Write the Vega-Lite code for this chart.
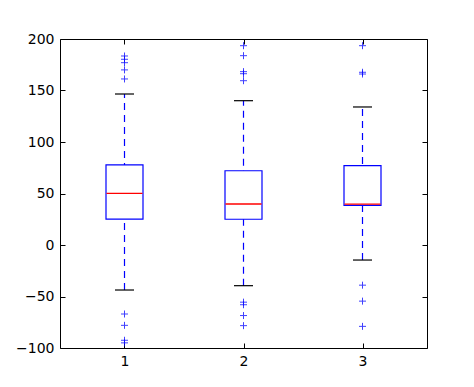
{
  "$schema": "https://vega.github.io/schema/vega-lite/v6.json",
  "autosize": {"type": "none"},
  "padding": {"left": 60, "top": 39, "right": 47, "bottom": 39},
  "width": 367,
  "height": 309,
  "background": "white",
  "config": {
    "view": {"stroke": "black", "strokeWidth": 1},
    "font": "DejaVu Sans",
    "axis": {
      "grid": false,
      "domain": false,
      "labelFont": "DejaVu Sans",
      "labelFontSize": 14,
      "labelColor": "black",
      "tickColor": "black",
      "tickSize": -5,
      "tickWidth": 1,
      "title": null
    }
  },
  "datasets": {
    "stats": [
      {"group": 1, "lower": -43.7, "q1": 25.2, "median": 50.2, "q3": 77.7, "upper": 146.6},
      {"group": 2, "lower": -39.5, "q1": 25.0, "median": 39.8, "q3": 72.1, "upper": 140.1},
      {"group": 3, "lower": -14.6, "q1": 38.5, "median": 39.7, "q3": 77.0, "upper": 134.0}
    ],
    "outliers": [
      {"group": 1, "value": 183.5},
      {"group": 1, "value": 180.3},
      {"group": 1, "value": 177.0},
      {"group": 1, "value": 170.0},
      {"group": 1, "value": 161.2},
      {"group": 1, "value": -67.0},
      {"group": 1, "value": -78.0},
      {"group": 1, "value": -92.5},
      {"group": 1, "value": -95.0},
      {"group": 2, "value": 193.5},
      {"group": 2, "value": 183.8},
      {"group": 2, "value": 168.3},
      {"group": 2, "value": 166.3},
      {"group": 2, "value": 159.5},
      {"group": 2, "value": -55.5},
      {"group": 2, "value": -58.0},
      {"group": 2, "value": -68.5},
      {"group": 2, "value": -78.3},
      {"group": 3, "value": 193.5},
      {"group": 3, "value": 167.7},
      {"group": 3, "value": 166.0},
      {"group": 3, "value": -39.0},
      {"group": 3, "value": -54.5},
      {"group": 3, "value": -79.0}
    ]
  },
  "layer": [
    {
      "data": {"name": "stats"},
      "mark": {"type": "rule", "color": "#0000ff", "strokeWidth": 1.2, "strokeDash": [7, 5]},
      "encoding": {
        "x": {
          "field": "group", "type": "quantitative",
          "scale": {"domain": [0.5, 3.5], "nice": false, "zero": false},
          "axis": {"values": [1, 2, 3], "format": "d", "orient": "bottom", "labelPadding": 11}
        },
        "y": {
          "field": "lower", "type": "quantitative",
          "scale": {"domain": [-100, 200], "nice": false, "zero": false},
          "axis": {"values": [-100, -50, 0, 50, 100, 150, 200], "orient": "left", "labelPadding": 11}
        },
        "y2": {"field": "upper"}
      }
    },
    {
      "data": {"name": "stats"},
      "mark": {"type": "bar", "fill": "white", "stroke": "#0000ff", "strokeWidth": 1.2, "size": 37, "orient": "vertical", "opacity": 1},
      "encoding": {
        "x": {"field": "group", "type": "quantitative", "axis": null},
        "y": {"field": "q1", "type": "quantitative", "axis": null},
        "y2": {"field": "q3"}
      }
    },
    {
      "data": {"name": "stats"},
      "mark": {"type": "tick", "orient": "horizontal", "color": "#ff0000", "size": 36, "thickness": 1.3, "opacity": 1},
      "encoding": {
        "x": {"field": "group", "type": "quantitative", "axis": null},
        "y": {"field": "median", "type": "quantitative", "axis": null}
      }
    },
    {
      "data": {"name": "stats"},
      "mark": {"type": "tick", "orient": "horizontal", "color": "black", "size": 19, "thickness": 1.2, "opacity": 1},
      "encoding": {
        "x": {"field": "group", "type": "quantitative", "axis": null},
        "y": {"field": "upper", "type": "quantitative", "axis": null}
      }
    },
    {
      "data": {"name": "stats"},
      "mark": {"type": "tick", "orient": "horizontal", "color": "black", "size": 19, "thickness": 1.2, "opacity": 1},
      "encoding": {
        "x": {"field": "group", "type": "quantitative", "axis": null},
        "y": {"field": "lower", "type": "quantitative", "axis": null}
      }
    },
    {
      "data": {"name": "outliers"},
      "mark": {"type": "point", "shape": "M-1,0L1,0M0,-1L0,1", "filled": false, "stroke": "#0000ff", "strokeWidth": 1, "size": 49, "opacity": 0.75},
      "encoding": {
        "x": {"field": "group", "type": "quantitative", "axis": {"values": [1, 2, 3], "orient": "top", "labels": false}},
        "y": {"field": "value", "type": "quantitative", "axis": {"values": [-100, -50, 0, 50, 100, 150, 200], "orient": "right", "labels": false}}
      }
    }
  ],
  "resolve": {"axis": {"x": "independent", "y": "independent"}}
}
